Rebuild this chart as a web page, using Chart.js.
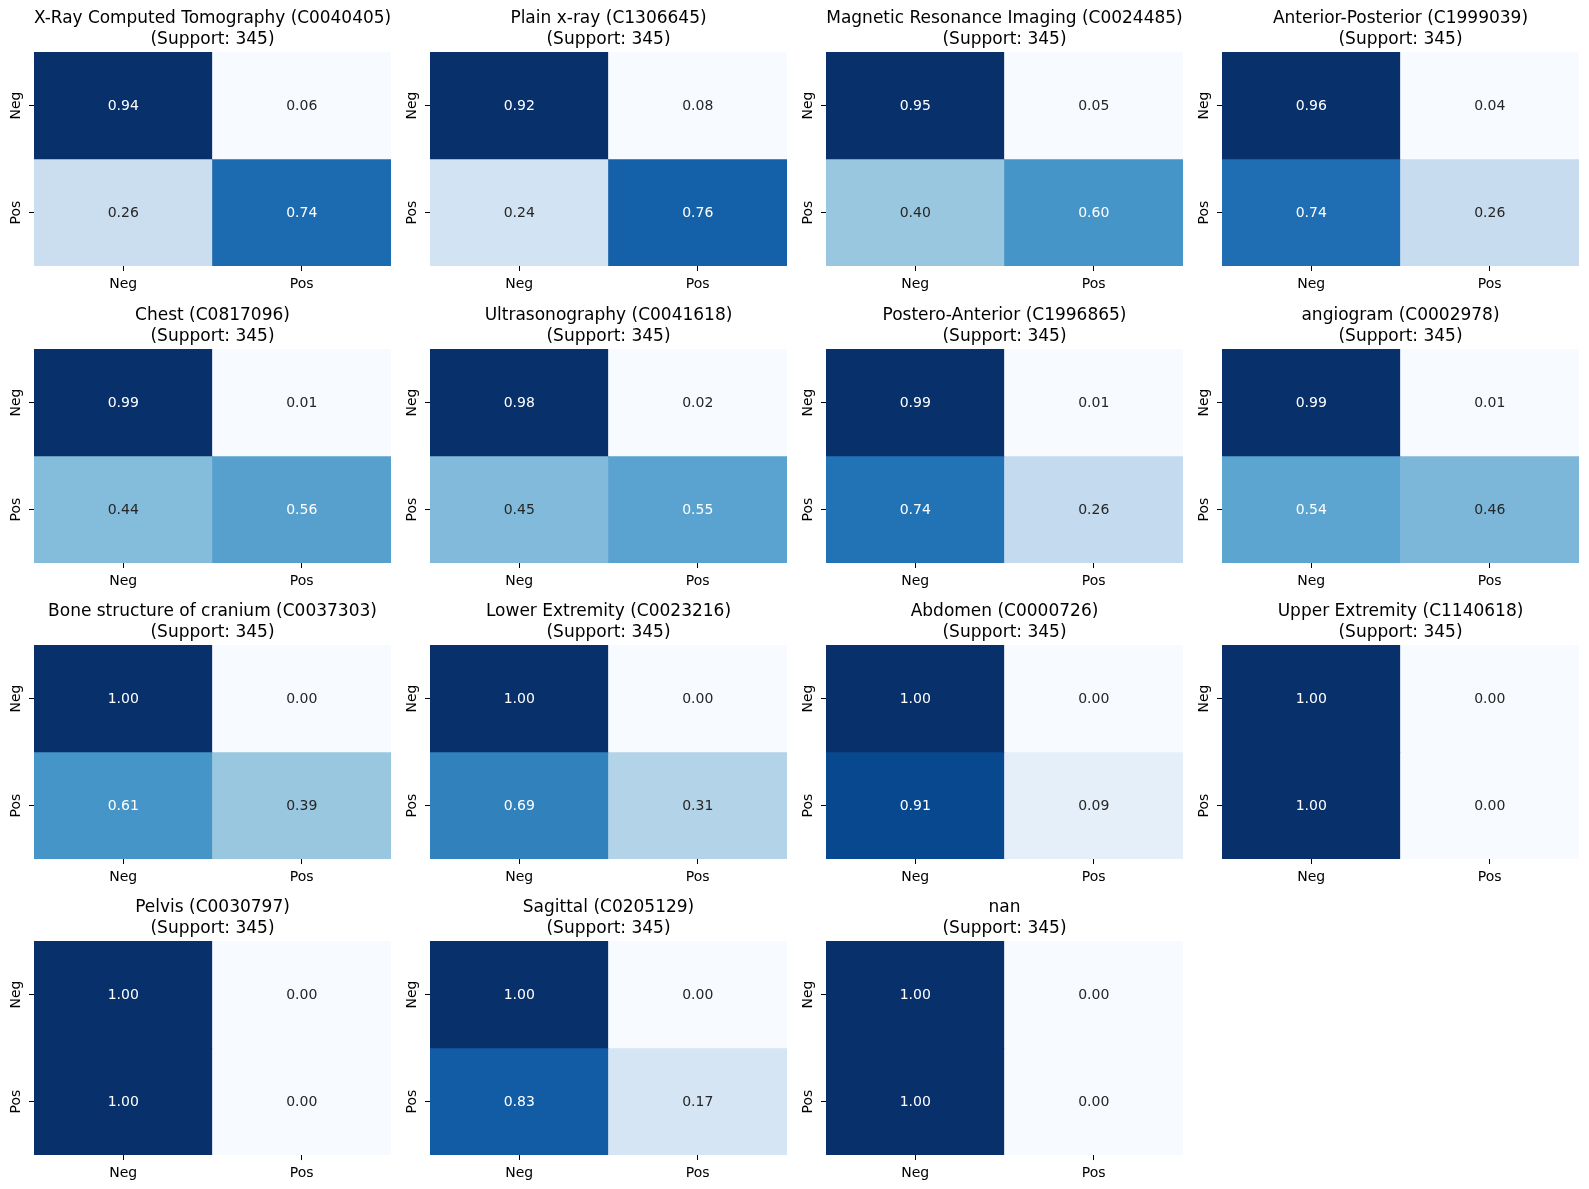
<!DOCTYPE html>
<html>
<head>
<meta charset="utf-8">
<script src="https://cdn.jsdelivr.net/npm/chart.js@4.4.1/dist/chart.umd.min.js"></script>
<style>
  html, body { margin: 0; padding: 0; background: #ffffff; }
  body { width: 1589px; height: 1189px; position: relative; overflow: hidden; }
  .cm { position: absolute; }
</style>
</head>
<body>
<script>
// ---------------- data ----------------
const classLabels = ['Neg', 'Pos'];
const conceptNames = [
  'X-Ray Computed Tomography', 'Plain x-ray', 'Magnetic Resonance Imaging', 'Anterior-Posterior',
  'Chest', 'Ultrasonography', 'Postero-Anterior', 'angiogram',
  'Bone structure of cranium', 'Lower Extremity', 'Abdomen', 'Upper Extremity',
  'Pelvis', 'Sagittal', 'nan'
];
const conceptCodes = [
  'C0040405', 'C1306645', 'C0024485', 'C1999039',
  'C0817096', 'C0041618', 'C1996865', 'C0002978',
  'C0037303', 'C0023216', 'C0000726', 'C1140618',
  'C0030797', 'C0205129', ''
];
const supports = [345, 345, 345, 345, 345, 345, 345, 345, 345, 345, 345, 345, 345, 345, 345];
// row "Neg" (true negative row) and row "Pos" (true positive row), columns Neg / Pos
const negAsNeg = [0.94, 0.92, 0.95, 0.96, 0.99, 0.98, 0.99, 0.99, 1.00, 1.00, 1.00, 1.00, 1.00, 1.00, 1.00];
const negAsPos = [0.06, 0.08, 0.05, 0.04, 0.01, 0.02, 0.01, 0.01, 0.00, 0.00, 0.00, 0.00, 0.00, 0.00, 0.00];
const posAsNeg = [0.26, 0.24, 0.40, 0.74, 0.44, 0.45, 0.74, 0.54, 0.61, 0.69, 0.91, 1.00, 1.00, 0.83, 1.00];
const posAsPos = [0.74, 0.76, 0.60, 0.26, 0.56, 0.55, 0.26, 0.46, 0.39, 0.31, 0.09, 0.00, 0.00, 0.17, 0.00];

// ---------------- colormap (matplotlib "Blues") ----------------
const BLUES = [[247,251,255],[222,235,247],[198,219,239],[158,202,225],[107,174,214],
               [66,146,198],[33,113,181],[8,81,156],[8,48,107]];
function blues(t) {
  t = Math.min(1, Math.max(0, t));
  const i = Math.min(255, Math.floor(t * 256));
  const u = (i / 255) * 8;
  const k = Math.min(7, Math.floor(u));
  const f = u - k;
  return BLUES[k].map((c, j) => c + (BLUES[k + 1][j] - c) * f);
}
function rgbStr(c) { return 'rgb(' + c.map(v => Math.round(v)).join(',') + ')'; }
function luminance(c) {
  const lin = c.map(v => { v = v / 255; return v <= 0.03928 ? v / 12.92 : Math.pow((v + 0.055) / 1.055, 2.4); });
  return 0.2126 * lin[0] + 0.7152 * lin[1] + 0.0722 * lin[2];
}

// ---------------- layout ----------------
const AREA_LEFT0 = 34, COL_PITCH = 396, AREA_TOP0 = 52.3, ROW_PITCH = 296.3;
const AREA_W = 357, AREA_H = 214;
const YAXIS_W = 34, TITLE_H = 52, XAXIS_H = 38, RIGHT_PAD = 34;
const FONT = '"DejaVu Sans", Verdana, sans-serif';

const cellTextPlugin = {
  id: 'cellText',
  afterDatasetsDraw(chart) {
    const ctx = chart.ctx;
    ctx.save();
    ctx.font = '14px ' + FONT;
    ctx.textAlign = 'center';
    ctx.textBaseline = 'middle';
    chart.data.datasets.forEach((ds, di) => {
      const meta = chart.getDatasetMeta(di);
      meta.data.forEach((bar, j) => {
        const p = bar.getProps(['x', 'y', 'base'], true);
        ctx.fillStyle = ds.textColors[j];
        ctx.fillText(ds.cellValues[j].toFixed(2), p.x, (p.y + p.base) / 2 + 1);
      });
    });
    ctx.restore();
  }
};

conceptNames.forEach((name, idx) => {
  const col = idx % 4, row = Math.floor(idx / 4);
  const areaLeft = AREA_LEFT0 + col * COL_PITCH;
  const areaTop = AREA_TOP0 + row * ROW_PITCH;

  const wrap = document.createElement('div');
  wrap.className = 'cm';
  const w = YAXIS_W + AREA_W + RIGHT_PAD, h = TITLE_H + AREA_H + XAXIS_H;
  wrap.style.left = (areaLeft - YAXIS_W) + 'px';
  wrap.style.top = (areaTop - TITLE_H) + 'px';
  wrap.style.width = w + 'px';
  wrap.style.height = h + 'px';
  const canvas = document.createElement('canvas');
  wrap.appendChild(canvas);
  document.body.appendChild(wrap);

  const matrix = [[negAsNeg[idx], negAsPos[idx]], [posAsNeg[idx], posAsPos[idx]]];
  const flat = matrix.flat();
  const vmin = Math.min(...flat), vmax = Math.max(...flat);
  const norm = v => (vmax > vmin ? (v - vmin) / (vmax - vmin) : 0);

  const datasets = matrix.map((rowVals, r) => {
    const cols = rowVals.map(v => blues(norm(v)));
    return {
      label: classLabels[r],
      data: rowVals.map(() => [r, r + 1]),
      cellValues: rowVals,
      backgroundColor: cols.map(rgbStr),
      textColors: cols.map(c => (luminance(c) > 0.408 ? 'rgb(38,38,38)' : '#ffffff')),
      borderWidth: 0,
      barPercentage: 1.0,
      categoryPercentage: 1.0,
      grouped: false
    };
  });

  const title = conceptCodes[idx]
    ? [name + ' (' + conceptCodes[idx] + ')', '(Support: ' + supports[idx] + ')']
    : [name, '(Support: ' + supports[idx] + ')'];

  new Chart(canvas, {
    type: 'bar',
    data: { labels: classLabels, datasets },
    options: {
      responsive: true,
      maintainAspectRatio: false,
      animation: false,
      events: [],
      layout: { padding: { left: 0, right: RIGHT_PAD, top: 0, bottom: 0 } },
      plugins: {
        legend: { display: false },
        tooltip: { enabled: false },
        title: {
          display: true,
          fullSize: false,
          text: title,
          color: '#000000',
          font: { family: FONT, size: 17, weight: 'normal', lineHeight: 21 / 17 },
          padding: { top: 8, bottom: 2 }
        }
      },
      scales: {
        x: {
          type: 'category',
          offset: true,
          grid: { display: true, offset: false, drawOnChartArea: false, drawTicks: true, tickLength: 5, tickColor: '#000000', tickWidth: 1 },
          border: { display: false },
          ticks: { color: '#000000', padding: 5, font: { family: FONT, size: 14 } },
          afterFit(scale) { scale.height = XAXIS_H; }
        },
        y: {
          type: 'linear',
          min: 0,
          max: 2,
          reverse: true,
          afterBuildTicks(scale) { scale.ticks = [{ value: 0.5 }, { value: 1.5 }]; },
          grid: { display: true, drawOnChartArea: false, drawTicks: true, tickLength: 5, tickColor: '#000000', tickWidth: 1 },
          border: { display: false },
          ticks: {
            color: '#000000',
            padding: -1.5,
            minRotation: 90,
            maxRotation: 90,
            crossAlign: 'center',
            font: { family: FONT, size: 14 },
            callback: v => classLabels[Math.floor(v)]
          },
          afterFit(scale) { scale.width = YAXIS_W; }
        }
      }
    },
    plugins: [cellTextPlugin]
  });
});
</script>
</body>
</html>
